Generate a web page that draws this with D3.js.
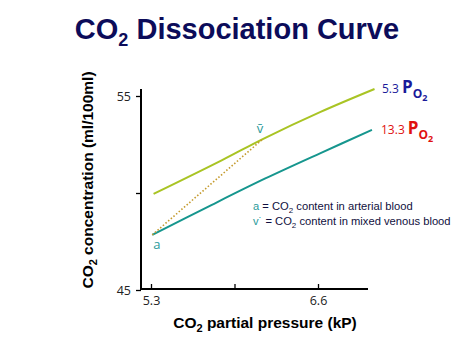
<!DOCTYPE html>
<html>
<head>
<meta charset="utf-8">
<title>CO2 Dissociation Curve</title>
<script src="https://cdn.jsdelivr.net/npm/d3@7"></script>
<style>
  html, body { margin: 0; padding: 0; background: #fff; }
  svg { display: block; font-family: "Liberation Sans", Arial, sans-serif; }
</style>
</head>
<body>
<svg id="chart" width="474" height="355"></svg>
<script>
// values (pCO2 in kPa, CO2 content in ml/100ml)
var venousX = [5.32, 5.85, 6.17, 6.62, 7.04];
var venousY = [49.95, 51.68, 52.78, 54.18, 55.36];
var arterialX = [5.31, 5.77, 6.19, 6.62, 7.02];
var arterialY = [47.84, 49.38, 50.75, 52.06, 53.25];
var xTicks = [5.3, 5.95, 6.6];
var xTickLabels = ["5.3", "", "6.6"];
var yTicks = [45, 50, 55];
var yTickLabels = ["45", "", "55"];
var pointA = [5.31, 47.84];
var pointV = [6.17, 52.78];

var svg = d3.select("#chart");
var navy = "#0c0c5a";

// scales fitted to the axis pixels
var x = d3.scaleLinear().domain([5.3, 6.6]).range([151, 318]);
var y = d3.scaleLinear().domain([45, 55]).range([290, 96]);
var x0 = x.invert(141), x1 = x.invert(368);

// title
var title = svg.append("text")
    .attr("x", 237).attr("y", 39)
    .attr("text-anchor", "middle")
    .attr("font-size", 29).attr("font-weight", "bold")
    .attr("fill", navy);
title.append("tspan").text("CO");
title.append("tspan").attr("font-size", 18).attr("dy", 7).text("2");
title.append("tspan").attr("dy", -7).text(" Dissociation Curve");

// axes
var xAxis = d3.axisBottom(x).tickValues(xTicks).tickSize(-5).tickFormat(function(d, i) { return xTickLabels[i]; });
var yAxis = d3.axisLeft(y).tickValues(yTicks).tickSize(5).tickFormat(function(d, i) { return yTickLabels[i]; });

var gx = svg.append("g").attr("transform", "translate(0,289)").call(xAxis);
gx.select(".domain").attr("d", "M" + x(x0) + ",0H" + x(x1)).attr("stroke-width", 2);
gx.selectAll("line").attr("stroke-width", 1.3);
gx.selectAll("text").attr("y", 7).attr("font-size", 12.5).attr("fill", "#222")
    .attr("font-family", "'Open Sans', sans-serif");

var gy = svg.append("g").attr("transform", "translate(141,0)").call(yAxis);
gy.select(".domain").attr("d", "M0," + (y(55) - 7) + "V" + 290).attr("stroke-width", 2);
gy.selectAll("line").attr("stroke-width", 1.3);
gy.selectAll("text").attr("x", -10).attr("font-size", 12.5).attr("fill", "#222")
    .attr("font-family", "'Open Sans', sans-serif");

// axis titles
var xt = svg.append("text")
    .attr("x", 265).attr("y", 328)
    .attr("text-anchor", "middle").attr("font-size", 15.5).attr("font-weight", "bold");
xt.append("tspan").text("CO");
xt.append("tspan").attr("font-size", 11).attr("dy", 4).text("2");
xt.append("tspan").attr("dy", -4).text(" partial pressure (kP)");

var yt = svg.append("text")
    .attr("transform", "translate(93,180) rotate(-90)")
    .attr("text-anchor", "middle").attr("font-size", 15.5).attr("font-weight", "bold");
yt.append("tspan").text("CO");
yt.append("tspan").attr("font-size", 11).attr("dy", 4).text("2");
yt.append("tspan").attr("dy", -4).text(" concentration (ml/100ml)");

// curves
var line = d3.line().x(function(d) { return x(d[0]); }).y(function(d) { return y(d[1]); }).curve(d3.curveCatmullRom);

svg.append("path")
    .datum(d3.zip(venousX, venousY))
    .attr("d", line).attr("fill", "none")
    .attr("stroke", "#a9c424").attr("stroke-width", 2);

svg.append("path")
    .datum(d3.zip(arterialX, arterialY))
    .attr("d", line).attr("fill", "none")
    .attr("stroke", "#16968e").attr("stroke-width", 2);

// a -> v dotted line
svg.append("line")
    .attr("x1", x(pointA[0])).attr("y1", y(pointA[1]))
    .attr("x2", x(pointV[0])).attr("y2", y(pointV[1]))
    .attr("stroke", "#c49a2c").attr("stroke-width", 1.6)
    .attr("stroke-dasharray", "1.5,2");

svg.append("text").attr("x", x(pointA[0]) + 1).attr("y", y(pointA[1]) + 14)
    .attr("font-size", 13).attr("fill", "#2a9a9a")
    .attr("font-family", "'Open Sans', sans-serif").text("a");
svg.append("text").attr("x", x(pointV[0]) - 6).attr("y", y(pointV[1]) - 6)
    .attr("font-size", 13).attr("fill", "#2a9a9a")
    .attr("font-family", "'Open Sans', sans-serif").text("v\u0304");

// curve labels
function curveLabel(xp, yp, num, color) {
    var t = svg.append("text").attr("x", xp).attr("y", yp).attr("fill", color)
        .attr("font-family", "'Open Sans', sans-serif");
    t.append("tspan").attr("font-size", 12).text(num + " ");
    t.append("tspan").attr("font-size", 17).attr("font-weight", "bold").text("P");
    t.append("tspan").attr("font-size", 12).attr("font-weight", "bold").attr("dy", 5).text("O");
    t.append("tspan").attr("font-size", 9).attr("font-weight", "bold").attr("dy", 3).text("2");
}
curveLabel(382, 93, "5.3", "#1a1a9a");
curveLabel(381, 134, "13.3", "#e01010");

// legend notes
var n1 = svg.append("text").attr("x", 253).attr("y", 210).attr("font-size", 11.2).attr("fill", "#101040");
n1.append("tspan").attr("fill", "#2a9a9a").text("a");
n1.append("tspan").text(" = CO");
n1.append("tspan").attr("font-size", 8).attr("dy", 3).text("2");
n1.append("tspan").attr("dy", -3).text(" content in arterial blood");

var n2 = svg.append("text").attr("x", 253).attr("y", 225).attr("font-size", 11.2).attr("fill", "#101040");
n2.append("tspan").attr("fill", "#2a9a9a").text("v\u02d9");
n2.append("tspan").text(" = CO");
n2.append("tspan").attr("font-size", 8).attr("dy", 3).text("2");
n2.append("tspan").attr("dy", -3).text(" content in mixed venous blood");
</script>
</body>
</html>
